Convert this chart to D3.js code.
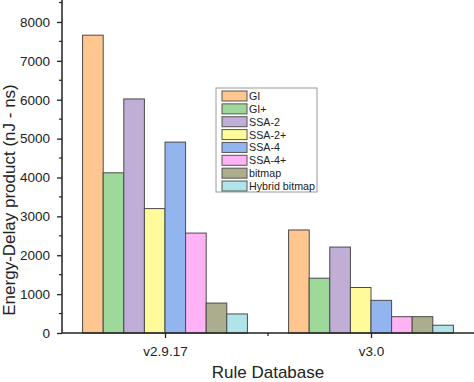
<!DOCTYPE html>
<html><head><meta charset="utf-8">
<script src="https://cdn.jsdelivr.net/npm/d3@7"></script>
<style>body{margin:0;background:#fff}svg{display:block}text{font-family:"Liberation Sans",Arial,sans-serif;fill:#222}</style>
</head><body><svg id="c" width="474" height="382"></svg>
<script>
const categories = ["v2.9.17", "v3.0"];
const seriesNames = ["GI", "GI+", "SSA-2", "SSA-2+", "SSA-4", "SSA-4+", "bitmap", "Hybrid bitmap"];
const seriesColors = ["#FFC690", "#9ED89A", "#C0AED6", "#FFFB9A", "#92B4EF", "#FFB3F5", "#ACAD8C", "#B1E4E8"];
const valuesV2917 = [7660, 4120, 6020, 3200, 4910, 2570, 770, 490];
const valuesV30 = [2650, 1410, 2210, 1170, 840, 420, 420, 200];
const yTicks = [0, 1000, 2000, 3000, 4000, 5000, 6000, 7000, 8000];
const yLabel = "Energy-Delay product (nJ - ns)";
const xLabel = "Rule Database";

const svg = d3.select("#c");
const x0 = 62, x1 = 474, yBase = 333, yTop = 0;
const x = d3.scaleLinear().domain([0.5, 2.5]).range([x0, x1]);
const y = d3.scaleLinear().domain([0, 8565]).range([yBase, yTop]);
const groupW = 0.8;
const band = d3.scaleBand().domain(seriesNames).range([-groupW / 2, groupW / 2]);
const data = [valuesV2917, valuesV30];

data.forEach((vals, gi) => {
  svg.append("g").selectAll("rect").data(vals).join("rect")
    .attr("x", (d, i) => x(gi + 1 + band(seriesNames[i])))
    .attr("width", (d, i) => x(gi + 1 + band(seriesNames[i]) + band.bandwidth()) - x(gi + 1 + band(seriesNames[i])))
    .attr("y", d => y(d))
    .attr("height", d => yBase - y(d))
    .attr("fill", (d, i) => seriesColors[i])
    .attr("stroke", "#4a4a4a").attr("stroke-width", 1);
});

// Y axis
const yAxis = d3.axisLeft(y).tickValues(yTicks).tickSize(5).tickPadding(7).tickFormat(d3.format("d"));
const gy = svg.append("g").attr("transform", `translate(${x0},0)`).call(yAxis);
gy.select(".domain").attr("d", `M0,${yBase}V${yTop}`).attr("stroke", "#222").attr("stroke-width", 1.5);
gy.selectAll(".tick line").attr("stroke", "#222").attr("stroke-width", 1.3);
gy.selectAll(".tick text").style("font-size", "13.5px").attr("fill", "#222");
const minorY = d3.range(500, 8600, 1000);
gy.selectAll(".minor").data(minorY).join("line").attr("class", "minor")
  .attr("x1", -3).attr("x2", 0).attr("y1", d => y(d)).attr("y2", d => y(d))
  .attr("stroke", "#222").attr("stroke-width", 1.2);

// X axis
const xAxis = d3.axisBottom(x).tickValues([1, 2]).tickSize(5).tickPadding(8).tickFormat((d, i) => categories[i]);
const gx = svg.append("g").attr("transform", `translate(0,${yBase})`).call(xAxis);
gx.select(".domain").attr("d", `M${x0},0H${x1}`).attr("stroke", "#222").attr("stroke-width", 1.5);
gx.selectAll(".tick line").attr("stroke", "#222").attr("stroke-width", 1.3);
gx.selectAll(".tick text").style("font-size", "13.5px").attr("fill", "#222");
gx.append("line").attr("x1", x(1.5)).attr("x2", x(1.5)).attr("y1", 0).attr("y2", 3).attr("stroke", "#222").attr("stroke-width", 1.2);

// Axis labels
svg.append("text").attr("x", 268).attr("y", 377.5)
  .attr("text-anchor", "middle").style("font-size", "17px").text(xLabel);
svg.append("text").attr("transform", "translate(15,200) rotate(-90)")
  .attr("text-anchor", "middle").style("font-size", "17px").text(yLabel);

// Legend
const lg = svg.append("g").attr("transform", "translate(216,88)");
lg.append("rect").attr("x", 0).attr("y", 0).attr("width", 101).attr("height", 104)
  .attr("fill", "#fff").attr("stroke", "#999").attr("stroke-width", 1);
const rowH = 12.86;
const items = lg.selectAll("g.item").data(seriesNames).join("g").attr("class", "item")
  .attr("transform", (d, i) => `translate(6,${3 + i * rowH})`);
items.append("rect").attr("width", 25).attr("height", 10)
  .attr("fill", (d, i) => seriesColors[i]).attr("stroke", "#555").attr("stroke-width", 1);
items.append("text").attr("x", 27).attr("y", 9).style("font-size", "10.7px").text(d => d);
</script></body></html>
